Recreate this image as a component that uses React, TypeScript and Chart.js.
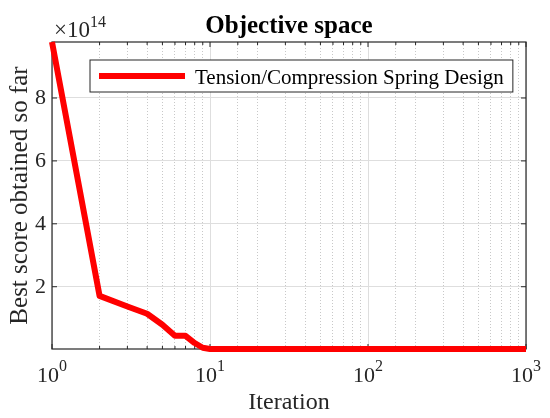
import React, { useEffect, useRef } from "react";
import { Chart, registerables } from "chart.js";

Chart.register(...registerables);

// ---- data ----
const iterations = [1, 2, 3, 4, 5, 6, 7, 8, 9, 10, 1000];
const bestScores = [9.78e14, 1.71e14, 1.37e14, 1.14e14, 0.79e14, 0.44e14, 0.44e14, 0.21e14, 0.06e14, 0.02e14, 0.02e14];
const seriesLabel = "Tension/Compression Spring Design";
const yTickValues = [2e14, 4e14, 6e14, 8e14];
const yTickLabels = ["2", "4", "6", "8"];
const yExponent = "14";
const xDecades = [1, 10, 100, 1000];
const xExponents = ["0", "1", "2", "3"];
const titleText = "Objective space";
const xTitleText = "Iteration";
const yTitleText = "Best score obtained so far";

const FONT = "'Liberation Serif', 'Times New Roman', serif";
const AXIS_COLOR = "#262626";
const RED = "#ff0000";

const isMajor = (v: number) => {
  const l = Math.log10(v);
  return Math.abs(l - Math.round(l)) < 1e-9;
};

const matlabPlugin = {
  id: "matlabDecor",
  beforeDatasetsDraw(chart: any) {
    const { ctx, chartArea } = chart;
    const { left, right, top, bottom } = chartArea;
    const xs = chart.scales.x;
    const ys = chart.scales.y;
    ctx.save();
    ctx.strokeStyle = AXIS_COLOR;
    ctx.lineWidth = 1.2;
    ctx.strokeRect(left, top, right - left, bottom - top);
    ctx.lineWidth = 1;
    ctx.beginPath();
    xs.ticks.forEach((t: any) => {
      const px = xs.getPixelForValue(t.value);
      const len = isMajor(t.value) ? 5 : 3;
      ctx.moveTo(px, bottom);
      ctx.lineTo(px, bottom - len);
      ctx.moveTo(px, top);
      ctx.lineTo(px, top + len);
    });
    ys.ticks.forEach((t: any) => {
      const py = ys.getPixelForValue(t.value);
      ctx.moveTo(left, py);
      ctx.lineTo(left + 5, py);
      ctx.moveTo(right, py);
      ctx.lineTo(right - 5, py);
    });
    ctx.stroke();
    ctx.restore();
  },
  afterDraw(chart: any) {
    const { ctx, chartArea } = chart;
    const { left, top, bottom } = chartArea;
    const xs = chart.scales.x;
    ctx.save();
    ctx.fillStyle = AXIS_COLOR;
    ctx.textBaseline = "alphabetic";
    ctx.textAlign = "left";
    // x tick labels 10^n
    xDecades.forEach((v, i) => {
      const px = xs.getPixelForValue(v);
      ctx.font = `22px ${FONT}`;
      const w1 = ctx.measureText("10").width;
      ctx.font = `16px ${FONT}`;
      const w2 = ctx.measureText(xExponents[i]).width;
      const x0 = px - (w1 + w2) / 2;
      const base = bottom + 33;
      ctx.font = `22px ${FONT}`;
      ctx.fillText("10", x0, base);
      ctx.font = `16px ${FONT}`;
      ctx.fillText(xExponents[i], x0 + w1, base - 11);
    });
    // y exponent label
    ctx.font = `23px ${FONT}`;
    const base = top - 5;
    const lbl = "\u00d710";
    ctx.fillText(lbl, left + 2, base);
    const wl = ctx.measureText(lbl).width;
    ctx.font = `16px ${FONT}`;
    ctx.fillText(yExponent, left + 2 + wl, base - 10);

    // legend
    ctx.font = `21px ${FONT}`;
    const tw = ctx.measureText(seriesLabel).width;
    const bx = left + 38;
    const by = top + 18;
    const bh = 32;
    const textX = bx + 105;
    const bw = textX - bx + tw + 9;
    ctx.fillStyle = "#ffffff";
    ctx.fillRect(bx, by, bw, bh);
    ctx.strokeStyle = AXIS_COLOR;
    ctx.lineWidth = 1;
    ctx.strokeRect(bx, by, bw, bh);
    ctx.strokeStyle = RED;
    ctx.lineWidth = 6;
    ctx.beginPath();
    ctx.moveTo(bx + 9, by + 16);
    ctx.lineTo(bx + 95, by + 16);
    ctx.stroke();
    ctx.fillStyle = "#000000";
    ctx.fillText(seriesLabel, textX, by + 24);
    ctx.restore();
  },
};

export default function App() {
  const canvasRef = useRef<HTMLCanvasElement | null>(null);

  useEffect(() => {
    if (!canvasRef.current) return;
    const chart = new Chart(canvasRef.current, {
      type: "line",
      data: {
        datasets: [
          {
            label: seriesLabel,
            data: iterations.map((x, i) => ({ x, y: bestScores[i] })),
            borderColor: RED,
            backgroundColor: RED,
            borderWidth: 6,
            pointRadius: 0,
            tension: 0,
            clip: false as any,
            borderJoinStyle: "round",
            borderCapStyle: "butt",
          },
        ],
      },
      options: {
        animation: false,
        responsive: false,
        devicePixelRatio: 1,
        layout: { padding: { left: 0, right: 24, top: 0, bottom: 0 } },
        plugins: {
          legend: { display: false },
          tooltip: { enabled: false },
          title: {
            display: true,
            text: titleText,
            fullSize: false,
            color: "#000000",
            font: { family: FONT, size: 25, weight: "bold" },
            padding: { top: 12, bottom: 0 },
          },
        },
        scales: {
          x: {
            type: "logarithmic",
            position: "bottom",
            min: 1,
            max: 1000,
            afterFit: (s: any) => {
              s.height = 69;
            },
            ticks: { display: false },
            grid: {
              drawTicks: false,
              lineWidth: 1,
              color: (c: any) => (c.tick && isMajor(c.tick.value) ? "#dedede" : "#c8c8c8"),
            },
            border: {
              display: false,
              dash: (c: any) => (c.tick && isMajor(c.tick.value) ? [] : [1, 2]),
            } as any,
            title: {
              display: true,
              text: xTitleText,
              color: AXIS_COLOR,
              font: { family: FONT, size: 24 },
              padding: { top: 0, bottom: 1 },
            },
          },
          y: {
            type: "linear",
            min: 0.02e14,
            max: 9.78e14,
            afterFit: (s: any) => {
              s.width = 52;
            },
            afterBuildTicks: (s: any) => {
              s.ticks = yTickValues.map((v) => ({ value: v }));
            },
            ticks: {
              color: AXIS_COLOR,
              font: { family: FONT, size: 22 },
              padding: 6,
              callback: (v: any) => {
                const idx = yTickValues.indexOf(Number(v));
                return idx >= 0 ? yTickLabels[idx] : "";
              },
            },
            grid: {
              drawTicks: false,
              lineWidth: 1,
              color: "#dedede",
            },
            border: { display: false },
            title: {
              display: true,
              text: yTitleText,
              color: AXIS_COLOR,
              font: { family: FONT, size: 25 },
              padding: { top: 5, bottom: 0 },
            },
          },
        },
      },
      plugins: [matlabPlugin],
    });
    return () => chart.destroy();
  }, []);

  return (
    <div style={{ position: "absolute", left: 0, top: 0, width: 550, height: 418, background: "#ffffff" }}>
      <canvas ref={canvasRef} width={550} height={418} style={{ width: 550, height: 418, display: "block" }} />
    </div>
  );
}
